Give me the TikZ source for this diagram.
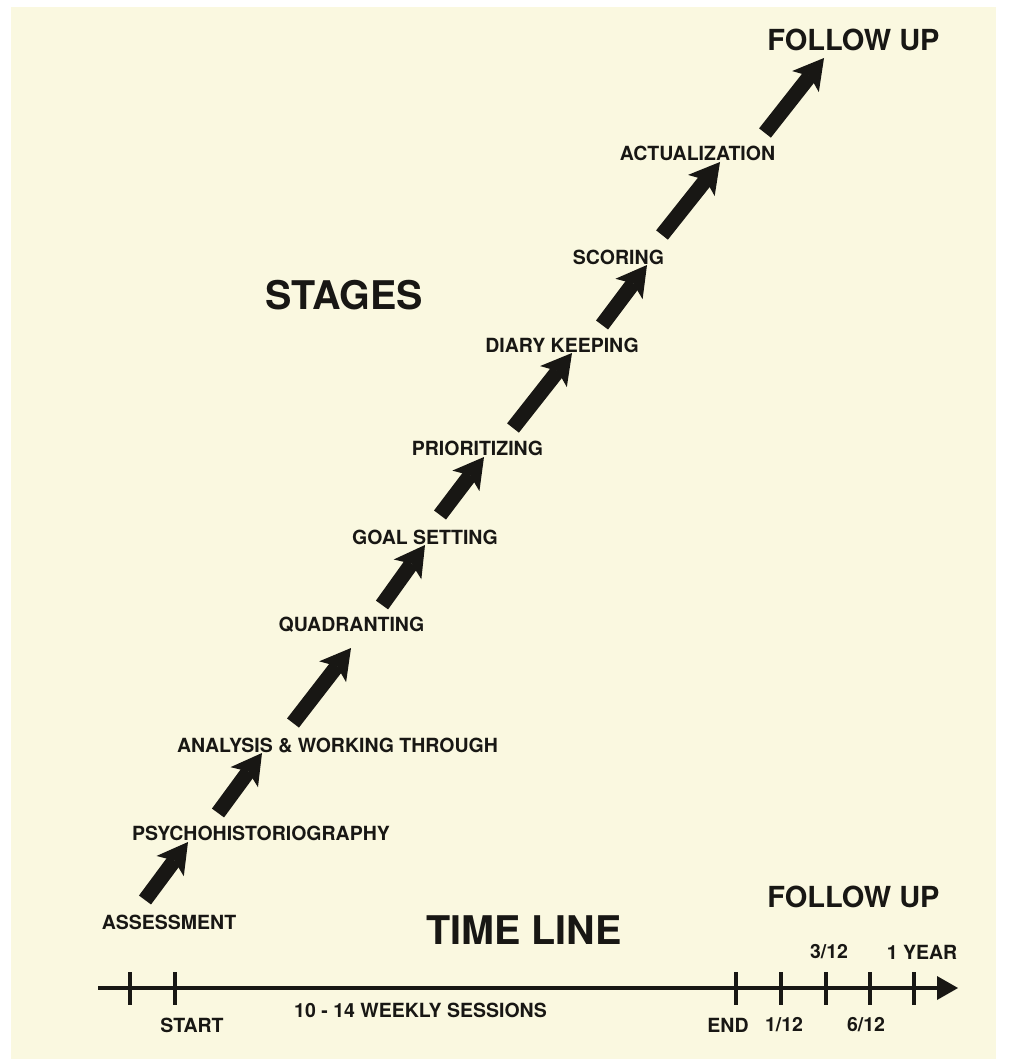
\documentclass[tikz,border=0pt]{standalone}
\usepackage{fontspec}
\setmainfont{TeX Gyre Heros}
\usetikzlibrary{arrows.meta}
\definecolor{cream}{RGB}{250,248,224}
\definecolor{ink}{RGB}{24,23,20}
\begin{document}
\begin{tikzpicture}[x=1pt,y=-1pt,
  stagelabel/.style={font=\bfseries\fontsize{19.5}{22}\selectfont, text=ink, inner sep=0pt},
  bighead/.style={font=\bfseries\fontsize{39.5}{44}\selectfont, text=ink, inner sep=0pt},
  midhead/.style={font=\bfseries\fontsize{29}{32}\selectfont, text=ink, inner sep=0pt},
  stagearrow/.style={draw=ink, line width=15pt,
     -{Stealth[length=30pt,width=34pt,inset=7pt,line width=0pt]}},
  timeaxis/.style={draw=ink, line width=4pt, -{Triangle[length=21pt,width=24pt,line width=0pt]}},
  tickmark/.style={draw=ink, line width=3.5pt}
]
\useasboundingbox (0,0) rectangle (1028,1064);
\fill[white] (0,0) rectangle (1028,1064);
\fill[cream] (11,7) rectangle (996,1059);

% stage labels
\node[stagelabel] (assess) at (169,922) {ASSESSMENT};
\node[stagelabel] (psycho) at (261,833) {PSYCHOHISTORIOGRAPHY};
\node[stagelabel] (analysis) at (337.5,745) {ANALYSIS \& WORKING THROUGH};
\node[stagelabel] (quad) at (351.5,625) {QUADRANTING};
\node[stagelabel] (goal) at (425,537) {GOAL SETTING};
\node[stagelabel] (prior) at (477.5,448) {PRIORITIZING};
\node[stagelabel] (diary) at (562,345) {DIARY KEEPING};
\node[stagelabel] (scoring) at (618.5,257) {SCORING};
\node[stagelabel] (actual) at (697.5,153) {ACTUALIZATION};
\node[midhead] (followtop) at (853.5,40) {FOLLOW UP};

\node[bighead] (stages) at (344,295) {STAGES};
\node[bighead] (timeline) at (524,930) {TIME LINE};
\node[midhead] (followbot) at (853.5,897) {FOLLOW UP};

% stage arrows
\coordinate (a1t) at (145,900); \coordinate (a1h) at (188,842);
\coordinate (a2t) at (218,813); \coordinate (a2h) at (262,753);
\coordinate (a3t) at (293,723); \coordinate (a3h) at (351,648);
\coordinate (a4t) at (382,605); \coordinate (a4h) at (425,545);
\coordinate (a5t) at (440,515); \coordinate (a5h) at (484,457);
\coordinate (a6t) at (513,428); \coordinate (a6h) at (572,353);
\coordinate (a7t) at (602,325); \coordinate (a7h) at (647,265);
\coordinate (a8t) at (662,235); \coordinate (a8h) at (720,162);
\coordinate (a9t) at (765,133); \coordinate (a9h) at (824,58);
\foreach \i in {1,...,9}{\draw[stagearrow] (a\i t) -- (a\i h);}

% time line
\coordinate (axisstart) at (98,988);
\coordinate (axisend) at (958,988);
\draw[timeaxis] (axisstart) -- (axisend);
\foreach \n/\x in {t0/130,tstart/175,tend/736,t1/781,t3/826,t6/870,tyear/914}{
  \coordinate (\n) at (\x,988);
  \draw[tickmark] ([yshift=-16.5pt]\n) -- ([yshift=16.5pt]\n);
}
\node[stagelabel] (startlbl) at (192,1025) {START};
\node[stagelabel] (sessions) at (420.5,1010) {10 - 14 WEEKLY SESSIONS};
\node[stagelabel] (endlbl) at (728,1025) {END};
\node[stagelabel] (onelbl) at (784,1025) {1/12};
\node[stagelabel] (sixlbl) at (866,1025) {6/12};
\node[stagelabel] (threelbl) at (829,952) {3/12};
\node[stagelabel] (yearlbl) at (922,952) {1 YEAR};
\end{tikzpicture}
\end{document}
